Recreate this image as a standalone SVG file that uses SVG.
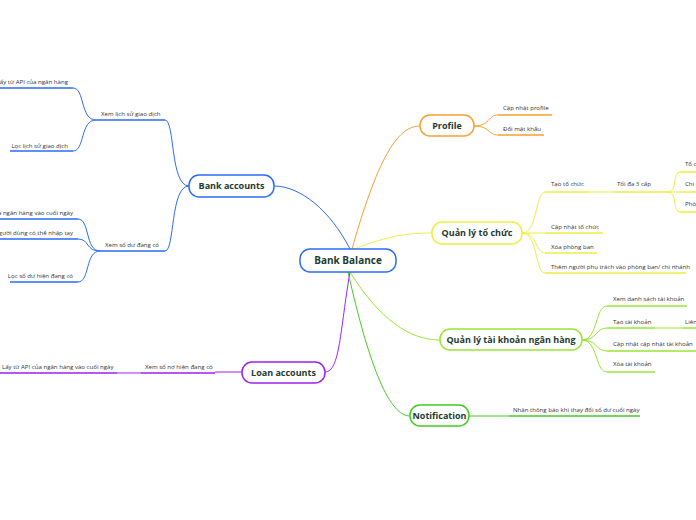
<svg xmlns="http://www.w3.org/2000/svg" width="696" height="520" viewBox="0 0 696 520">
<style>
.n{fill:#fff;stroke-width:1.5}
.t{font-family:"Open Sans","Liberation Sans",sans-serif;font-size:9px;font-weight:bold;fill:#1d3b31;text-anchor:middle}
.l{font-family:"Open Sans","Liberation Sans",sans-serif;font-size:6.1px;fill:#333}
.e{text-anchor:end}
.c{fill:none;stroke-width:1}
.u{fill:none;stroke-width:1.6}
.b{stroke:#2d6cf5}.p{stroke:#a020f0}.o{stroke:#f5a030}.y{stroke:#eeee44}.g{stroke:#99e633}.g2{stroke:#44cc22}
</style>
<g id="connectors">
<path class="c b" d="M350,249 C330,210 300,186 274,186"/>
<path class="c b" d="M189,186 C170,186 175,120 165,120"/>
<path class="c b" d="M189,186 C170,186 175,251 165,251"/>
<path class="c b" d="M96,120 C80,120 85,88 73,88 M96,120 C80,120 85,151 73,151"/>
<path class="c b" d="M100,251 C85,251 90,219 78,219 M100,251 C85,251 90,239 78,239 M100,251 C85,251 90,282 78,282"/>
<path class="u b" d="M96,120 H165 M100,251 H165 M0,88 H73 M10,151 H73 M0,219 H78 M0,239 H78 M10,282 H78"/>
<path class="c p" d="M350,272 C340,330 340,372 325,372"/>
<path class="c p" d="M242,372 H215 M141,373 H117"/>
<path class="u p" d="M141,373 H215 M0,373 H117"/>
<path class="c o" d="M352,249 C380,150 400,126 420,126"/>
<path class="c o" d="M474,126 C490,126 488,115 498,115 M474,126 C490,126 488,135 498,135"/>
<path class="u o" d="M498,115 H552 M498,135 H544"/>
<path class="c y" d="M354,249 C390,235 410,233 432,233"/>
<path class="c y" d="M522,233 C538,233 535,192 545,192 M522,233 H545 M522,233 C538,233 535,253 545,253 M522,233 C538,233 535,273 545,273"/>
<path class="c y" d="M589,192 H613 M668,192 C678,192 672,172 680,172 M668,192 H680 M668,192 C678,192 672,212 680,212"/>
<path class="u y" d="M545,192 H589 M613,192 H668 M680,172 H696 M680,192 H696 M680,212 H696 M545,233 H603 M545,253 H597 M545,273 H686"/>
<path class="c g" d="M350,272 C380,320 410,340 440,340"/>
<path class="c g" d="M582,340 C598,340 595,306 607,306 M582,340 C598,340 595,328 607,328 M582,340 C598,340 595,351 607,351 M582,340 C598,340 595,372 607,372 M655,328 H683"/>
<path class="u g" d="M607,306 H687 M607,328 H655 M683,328 H696 M607,351 H696 M607,372 H655"/>
<path class="c g2" d="M348,272 C370,370 390,416 410,416"/>
<path class="c g2" d="M469,416 H509"/>
<path class="u g2" d="M509,416 H640"/>
</g>
<g id="center"><rect class="n b" x="300" y="249" width="96" height="23" rx="10"/><text class="t" x="348" y="264" style="font-size:10px">Bank Balance</text></g>
<g id="bank"><rect class="n b" x="189" y="175" width="85" height="22" rx="10"/><text class="t" x="231.5" y="189">Bank accounts</text>
<text class="l" x="101" y="116">Xem lịch sử giao dịch</text>
<text class="l e" x="68" y="84">Lấy từ API của ngân hàng</text>
<text class="l e" x="68" y="148">Lọc lịch sử giao dịch</text>
<text class="l" x="105" y="247">Xem số dư đang có</text>
<text class="l e" x="73" y="215">Lấy từ API của ngân hàng vào cuối ngày</text>
<text class="l e" x="73" y="235">Người dùng có thể nhập tay</text>
<text class="l e" x="73" y="278">Lọc số dư hiện đang có</text></g>
<g id="loan"><rect class="n p" x="242" y="362" width="83" height="21" rx="10"/><text class="t" x="283.5" y="376">Loan accounts</text>
<text class="l" x="145" y="369">Xem số nợ hiện đang có</text>
<text class="l" x="2" y="369">Lấy từ API của ngân hàng vào cuối ngày</text></g>
<g id="profile"><rect class="n o" x="420" y="115" width="54" height="21" rx="10"/><text class="t" x="447" y="129">Profile</text>
<text class="l" x="503" y="110">Cập nhật profile</text>
<text class="l" x="503" y="131">Đổi mật khẩu</text></g>
<g id="org"><rect class="n y" x="432" y="222" width="90" height="22" rx="10"/><text class="t" x="477" y="236">Quản lý tổ chức</text>
<text class="l" x="551" y="186">Tạo tổ chức</text>
<text class="l" x="617" y="186">Tối đa 3 cấp</text>
<text class="l" x="685" y="166">Tổ chức</text>
<text class="l" x="685" y="186">Chi nhánh</text>
<text class="l" x="685" y="206">Phòng ban</text>
<text class="l" x="551" y="229">Cập nhật tổ chức</text>
<text class="l" x="551" y="249">Xóa phòng ban</text>
<text class="l" x="551" y="269">Thêm người phụ trách vào phòng ban/ chi nhánh</text></g>
<g id="acct"><rect class="n g" x="440" y="329" width="142" height="21" rx="10"/><text class="t" x="511" y="343">Quản lý tài khoản ngân hàng</text>
<text class="l" x="613" y="301">Xem danh sách tài khoản</text>
<text class="l" x="613" y="324">Tạo tài khoản</text>
<text class="l" x="685" y="324">Liên kết</text>
<text class="l" x="613" y="346">Cập nhật cập nhật tài khoản</text>
<text class="l" x="613" y="366">Xóa tài khoản</text></g>
<g id="notif"><rect class="n g2" x="410" y="405" width="59" height="21" rx="10"/><text class="t" x="439.5" y="419">Notification</text>
<text class="l" x="513" y="412">Nhận thông báo khi thay đổi số dư cuối ngày</text></g>
</svg>
